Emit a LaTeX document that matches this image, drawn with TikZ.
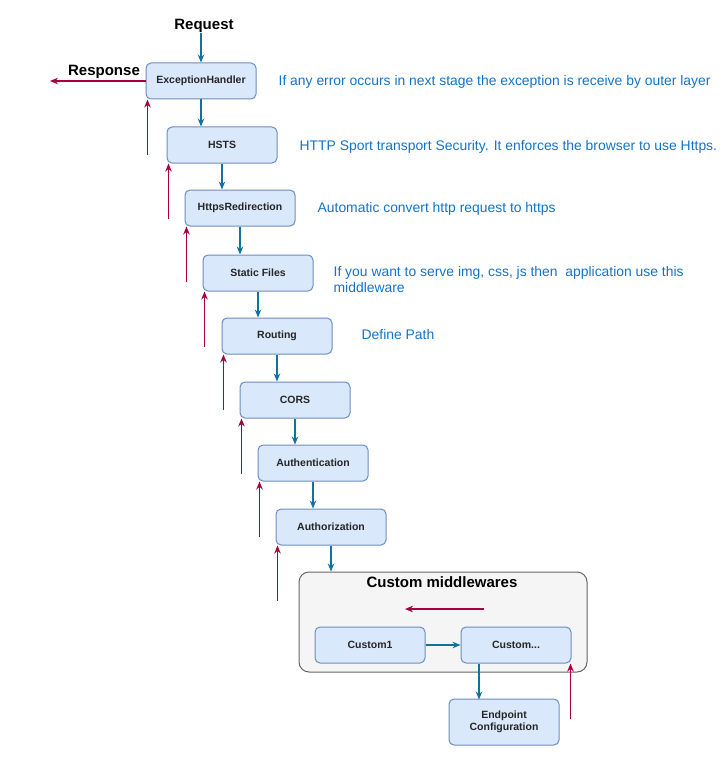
\documentclass[tikz,border=0pt]{standalone}
\usepackage{fontspec}
\setmainfont{Liberation Sans}
\usetikzlibrary{arrows.meta}
\definecolor{boxfill}{HTML}{DAE8FC}
\definecolor{boxline}{HTML}{6C8EBF}
\definecolor{fwdblue}{HTML}{10739E}
\definecolor{backred}{HTML}{A50040}
\definecolor{annoblue}{RGB}{20,115,200}
\definecolor{groupfill}{HTML}{F5F5F5}
\definecolor{groupline}{HTML}{666666}
\tikzset{every picture/.style = {x=1pt, y=-1pt, line width=1.3pt}}
\tikzset{mid/.style = {draw=boxline, fill=boxfill, rounded corners=5pt, line width=1pt,
  minimum width=110pt, minimum height=36pt, text=black!85, align=center,
  font=\fontsize{10.5}{12.5}\selectfont\bfseries}}
\tikzset{fwd/.style = {draw=fwdblue, -{Stealth[length=8pt,width=6.5pt]}}}
\tikzset{back/.style = {draw=backred, -{Stealth[length=8pt,width=6.5pt]}}}
\tikzset{anno/.style = {text=annoblue, anchor=west, inner sep=0, align=left,
  font=\fontsize{13.9}{16}\selectfont}}
\tikzset{head/.style = {font=\fontsize{15}{18}\selectfont\bfseries, inner sep=0}}

\begin{document}
\begin{tikzpicture}
  \useasboundingbox (0, 0) rectangle (725, 765);
  % pipeline
  \node[mid] (exc) at (201, 81) {ExceptionHandler};
  \node[mid] (hsts) at (222, 145) {HSTS};
  \node[mid] (redir) at (240, 208) {HttpsRedirection};
  \node[mid] (static) at (258, 273) {Static Files};
  \node[mid] (route) at (277, 336) {Routing};
  \node[mid] (cors) at (295, 400) {CORS};
  \node[mid] (authn) at (313, 463) {Authentication};
  \node[mid] (authz) at (331, 527) {Authorization};
  % custom group
  \node[draw=groupline, fill=groupfill, rounded corners=10pt, line width=1pt,
    minimum width=288pt, minimum height=100pt] (group) at (443, 622) {};
  \node[head] (grouptitle) at (442, 582) {Custom middlewares};
  \node[mid] (custom1) at (370, 645) {Custom1};
  \node[mid] (customn) at (516, 645) {Custom...};
  \node[mid, minimum height=46pt] (endpoint) at (504, 722) {Endpoint\\Configuration};
  % request / response
  \node[head] (request) at (204, 26) {Request};
  \node[head] (response) at (104, 72) {Response};
  \coordinate (out) at (50, 81);
  \draw[fwd] (request.south -| exc.north) -- (exc.north);
  \draw[back] (exc.west) -- (out);
  % forward path
  \draw[fwd] (exc.south) -- (exc.south |- hsts.north);
  \draw[fwd] (hsts.south) -- (hsts.south |- redir.north);
  \draw[fwd] (redir.south) -- (redir.south |- static.north);
  \draw[fwd] (static.south) -- (static.south |- route.north);
  \draw[fwd] (route.south) -- (route.south |- cors.north);
  \draw[fwd] (cors.south) -- (cors.south |- authn.north);
  \draw[fwd] (authn.south) -- (authn.south |- authz.north);
  \draw[fwd] (authz.south) -- (authz.south |- group.north);
  \draw[fwd] (custom1.east) -- (customn.west);
  \draw[fwd] ([xshift=-37pt]customn.south) -- ++(0, 36);
  % way back
  \foreach \m in {exc, hsts, redir, static, route, cors, authn, authz}
    \draw[back] ([xshift=2pt, yshift=-55pt]\m.south west) -- ([xshift=2pt]\m.south west);
  \draw[back] ([xshift=-1pt, yshift=-55pt]customn.south east) -- ([xshift=-1pt]customn.south east);
  \coordinate (loopin) at (484, 609);
  \coordinate (loopout) at (405, 609);
  \draw[back] (loopin) -- (loopout);
  % notes
  \node[anno] (note1) at (278, 82) {If any error occurs in next stage the exception is receive by outer layer};
  \node[anno] (note2) at (299, 147) {HTTP Sport transport Security. It enforces the browser to use Https.};
  \node[anno] (note3) at (317, 209) {Automatic convert http request to https};
  \node[anno] (note4) at (333, 280) {If you want to serve img, css, js then\ \ application use this\\middleware};
  \node[anno] (note5) at (361, 335) {Define Path};
\end{tikzpicture}
\end{document}
